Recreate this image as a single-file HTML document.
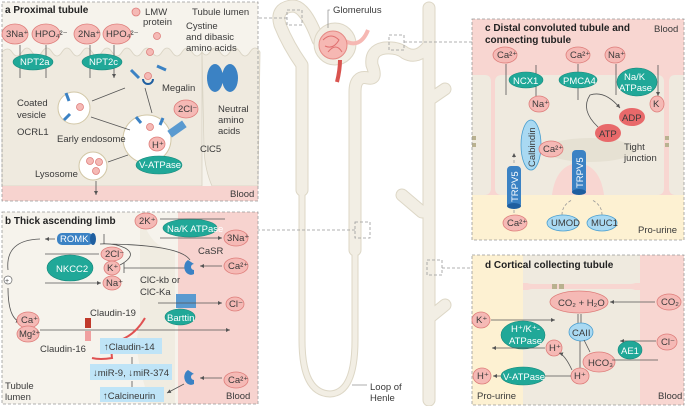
<!DOCTYPE html>
<html><head><meta charset="utf-8"><style>
html,body{margin:0;padding:0;background:#fff}
svg{display:block;font-family:"Liberation Sans",sans-serif}
.t{font-size:9.5px;fill:#3a3a3a}
.h{font-size:10px;font-weight:bold;fill:#222}
.io{fill:#f5b9b5;stroke:#de7d7a;stroke-width:0.8}
.tl{fill:#20a898;stroke:#16887b;stroke-width:0.6}
.tw{font-size:9.5px;fill:#fff}
.lb{fill:#a9d9f2;stroke:#4a9fd0;stroke-width:0.8}
.ar{stroke:#555;stroke-width:0.8;fill:none}
.ds{stroke:#999;stroke-width:0.8;fill:none;stroke-dasharray:3,2}
.tb{fill:none;stroke-linecap:round;stroke-linejoin:round}
</style></head><body>
<svg width="685" height="406" viewBox="0 0 685 406" xmlns="http://www.w3.org/2000/svg">
<defs><marker id="m" markerWidth="6" markerHeight="6" refX="5" refY="3" orient="auto"><path d="M0,0.5 L5,3 L0,5.5z" fill="#555"/></marker></defs>

<!-- PANEL A -->
<rect x="2" y="2" width="256" height="199" fill="#f6f3ec"/>
<path d="M2,52 q6,-6 10,0 q5,8 10,0 q5,-8 10,0 q5,8 10,0 q5,-8 10,0 q5,8 10,0 q5,-8 10,0 q5,8 10,0 q5,-8 10,0 q5,8 10,0 q5,-8 10,0 q5,8 10,0 q5,-8 10,0 q5,8 10,0 q5,-8 10,0 q5,8 10,0 q5,-8 10,0 q5,8 10,0 q5,-8 10,0 q5,8 10,0 L202,186 L2,186z" fill="#efeadf" stroke="#d8d2c2" stroke-width="0.8"/>
<path d="M202,52 q4,6 8,0 q5,-8 10,0 q5,8 10,0 q5,-8 10,0 q5,8 10,0 q5,-8 10,0 L258,186 L212,186 Q205,170 204,150z" fill="#efeadf" stroke="#d8d2c2" stroke-width="0.8"/>
<rect x="2" y="186" width="256" height="15" fill="#f7d3cf"/>
<rect x="2" y="2" width="256" height="199" class="ds"/>
<text x="5" y="13" class="h">a  Proximal tubule</text>
<text x="192" y="15" class="t">Tubule lumen</text>
<text x="230" y="197" class="t">Blood</text>
<ellipse cx="15" cy="34" rx="13" ry="10" class="io"/><text x="6" y="37" class="t">3Na⁺</text>
<ellipse cx="46" cy="34" rx="14" ry="10" class="io"/><text x="35" y="37" class="t">HPO₄²⁻</text>
<ellipse cx="87" cy="34" rx="13" ry="10" class="io"/><text x="78" y="37" class="t">2Na⁺</text>
<ellipse cx="117" cy="34" rx="14" ry="10" class="io"/><text x="106" y="37" class="t">HPO₄²⁻</text>
<path d="M20,45 V78 M46,45 V78 M90,45 V78 M114,45 V78" class="ar" marker-end="url(#m)"/>
<ellipse cx="33" cy="62" rx="20" ry="8" class="tl"/><text x="20" y="65" class="tw">NPT2a</text>
<ellipse cx="102" cy="62" rx="20" ry="8" class="tl"/><text x="89" y="65" class="tw">NPT2c</text>
<circle cx="136" cy="12" r="4" class="io"/><text x="145" y="15" class="t">LMW</text><text x="143" y="25" class="t">protein</text>
<circle cx="157" cy="36" r="3.5" class="io"/><circle cx="150" cy="52" r="3.5" class="io"/>
<text x="186" y="29" class="t">Cystine</text><text x="186" y="40" class="t">and dibasic</text><text x="186" y="51" class="t">amino acids</text>
<ellipse cx="215" cy="78" rx="8" ry="14" fill="#3b82c4"/><ellipse cx="230" cy="78" rx="8" ry="14" fill="#3b82c4"/>
<text x="218" y="112" class="t">Neutral</text><text x="218" y="123" class="t">amino</text><text x="218" y="134" class="t">acids</text>
<path d="M131,70 l8,8 M157,66 l9,4" stroke="#3b82c4" stroke-width="3"/>
<circle cx="148" cy="76" r="3.5" class="io"/><path d="M143,79 a5,5 0 0 0 10,0" stroke="#1f5fa0" stroke-width="2" fill="none"/>
<text x="162" y="91" class="t">Megalin</text>
<circle cx="74" cy="108" r="16" fill="#fff" stroke="#d2c7a6"/>
<path d="M66,93 l3,8 M64,120 l6,-6" stroke="#3b82c4" stroke-width="3"/>
<circle cx="80" cy="107" r="3.5" class="io"/>
<text x="17" y="106" class="t">Coated</text><text x="17" y="118" class="t">vesicle</text><text x="17" y="135" class="t">OCRL1</text>
<circle cx="147" cy="139" r="24" fill="#fff" stroke="#d2c7a6"/>
<path d="M136,117 l5,6 M163,118 l-3,7" stroke="#3b82c4" stroke-width="3"/>
<circle cx="150" cy="127" r="3.5" class="io"/>
<text x="57" y="142" class="t">Early endosome</text>
<ellipse cx="186" cy="109" rx="12" ry="9" class="io"/><text x="178" y="112" class="t">2Cl⁻</text>
<rect x="168" y="125" width="18" height="8" fill="#5a9ad0" transform="rotate(-35 177 129)"/>
<ellipse cx="157" cy="144" rx="8" ry="7" class="io"/><text x="152" y="148" class="t">H⁺</text>
<text x="200" y="152" class="t">ClC5</text>
<ellipse cx="159" cy="165" rx="23" ry="9" class="tl"/><text x="139" y="168" class="tw">V-ATPase</text>
<circle cx="93" cy="166" r="14" fill="#fff" stroke="#d2c7a6"/>
<circle cx="90" cy="161" r="3.5" class="io"/><circle cx="99" cy="162" r="3.5" class="io"/><circle cx="96" cy="171" r="3.5" class="io"/>
<text x="35" y="177" class="t">Lysosome</text>
<path d="M125,88 L92,101 M145,88 L152,113 M91,117 L130,130 M128,155 L108,162 M96,181 V195" class="ar" marker-end="url(#m)"/>

<!-- PANEL B -->
<rect x="2" y="212" width="256" height="192" fill="#f6f3ec"/>
<path d="M178,212 H258 V404 H178z" fill="#f7d3cf"/>
<path d="M140,212 Q150,250 175,250 L175,404 L150,404 Q130,340 140,330" fill="#efeadf" opacity="0.8"/>
<rect x="2" y="212" width="256" height="192" class="ds"/>
<text x="5" y="224" class="h">b  Thick ascending limb</text>
<ellipse cx="146" cy="221" rx="11" ry="8" class="io"/><text x="139" y="224" class="t">2K⁺</text>
<ellipse cx="190" cy="228" rx="27" ry="9" class="tl"/><text x="167" y="232" class="tw">Na/K ATPase</text>
<ellipse cx="236" cy="238" rx="12" ry="8" class="io"/><text x="227" y="241" class="t">3Na⁺</text>
<path d="M225,219 H160 M160,238 H222" class="ar" marker-end="url(#m)"/>
<rect x="57" y="233" width="36" height="12" rx="5" fill="#3b82c4"/><ellipse cx="93" cy="239" rx="3" ry="6" fill="#1f5fa0"/><text x="60" y="242" class="tw">ROMK</text>
<path d="M55,239 H45" class="ar" marker-end="url(#m)"/>
<path d="M40,239 Q5,240 8,270 M8,288 Q8,318 20,322" class="ar" marker-end="url(#m)"/>
<circle cx="8" cy="280" r="4" fill="#fff" stroke="#666" stroke-width="0.7"/><text x="5" y="283" font-size="7" fill="#444">+</text>
<ellipse cx="112" cy="254" rx="11" ry="7" class="io"/><text x="105" y="257" class="t">2Cl⁻</text>
<ellipse cx="112" cy="268" rx="8" ry="7" class="io"/><text x="107" y="271" class="t">K⁺</text>
<ellipse cx="112" cy="283" rx="9" ry="7" class="io"/><text x="106" y="286" class="t">Na⁺</text>
<path d="M45,254 H99 M45,283 H101" class="ar" marker-end="url(#m)"/>
<ellipse cx="70" cy="268" rx="23" ry="13" class="tl"/><text x="56" y="272" class="tw">NKCC2</text>
<path d="M120,265 Q138,255 125,248 Q115,243 100,244 M190,260 Q180,245 108,244 M104,244 V234 M185,268 H124 M124,263 V273" class="ar"/>
<path d="M188,260 a6,7 0 1 0 6,14 l0,-4 a3,3 0 0 1 0,-6z" fill="#3b82c4"/>
<text x="198" y="254" class="t">CaSR</text>
<ellipse cx="236" cy="266" rx="12" ry="8" class="io"/><text x="228" y="269" class="t">Ca²⁺</text>
<path d="M222,266 H200" class="ar" marker-end="url(#m)"/>
<text x="140" y="283" class="t">ClC-kb or</text><text x="140" y="295" class="t">ClC-Ka</text>
<path d="M176,294 h20 v14 h-20z" fill="#5a9ad0"/>
<ellipse cx="180" cy="317" rx="15" ry="8" class="tl"/><text x="167" y="321" class="tw">Barttin</text>
<path d="M158,303 H222" class="ar" marker-end="url(#m)"/>
<ellipse cx="235" cy="304" rx="9" ry="7" class="io"/><text x="229" y="307" class="t">Cl⁻</text>
<ellipse cx="28" cy="320" rx="11" ry="8" class="io"/><text x="21" y="323" class="t">Ca⁺</text>
<ellipse cx="28" cy="334" rx="11" ry="8" class="io"/><text x="19" y="337" class="t">Mg²⁺</text>
<path d="M40,330 H230" class="ar" marker-end="url(#m)"/>
<rect x="85" y="318" width="6" height="10" fill="#c0392b"/><rect x="85" y="331" width="6" height="10" fill="#f0a0a0"/>
<text x="90" y="316" class="t">Claudin-19</text><text x="40" y="352" class="t">Claudin-16</text>
<path d="M145,318 Q135,335 120,340 Q110,345 112,358 Q100,360 92,358" stroke="#e05252" stroke-width="2" fill="none"/>
<rect x="100" y="338" width="62" height="16" fill="#bfe4f7"/><text x="104" y="350" class="t" font-size="10">↑Claudin-14</text>
<rect x="90" y="364" width="82" height="16" fill="#bfe4f7"/><text x="93" y="376" class="t" font-size="10">↓miR-9, ↓miR-374</text>
<rect x="100" y="387" width="64" height="15" fill="#bfe4f7"/><text x="103" y="399" class="t" font-size="10">↑Calcineurin</text>
<path d="M132,364 V357 M132,387 V381 M184,384 L167,393" class="ar" marker-end="url(#m)"/>
<path d="M188,370 a6,7 0 1 0 6,14 l0,-4 a3,3 0 0 1 0,-6z" fill="#3b82c4"/>
<ellipse cx="236" cy="380" rx="12" ry="8" class="io"/><text x="228" y="383" class="t">Ca²⁺</text>
<path d="M222,378 H200" class="ar" marker-end="url(#m)"/>
<text x="5" y="389" class="t">Tubule</text><text x="5" y="400" class="t">lumen</text>
<text x="226" y="399" class="t">Blood</text>

<!-- NEPHRON -->
<path class="tb" d="M318,40 Q305,5 292,6 Q275,8 280,25 Q288,45 302,65 L302,190" stroke="#ddd7c6" stroke-width="13"/>
<path class="tb" d="M302,190 L302,340 Q302,393 330,394 Q355,393 355,340 L355,250" stroke="#ddd7c6" stroke-width="7"/>
<path class="tb" d="M355,250 L355,92 Q355,75 368,78 Q378,80 372,65 Q370,50 385,48 Q398,47 405,53 Q418,60 429,45" stroke="#ddd7c6" stroke-width="13"/>
<path class="tb" d="M429,8 L429,400 M429,100 L445,89 M422,212 L402,195 M429,318 L445,305" stroke="#ddd7c6" stroke-width="13"/>
<path class="tb" d="M318,40 Q305,5 292,6 Q275,8 280,25 Q288,45 302,65 L302,190" stroke="#f2eee4" stroke-width="11"/>
<path class="tb" d="M302,190 L302,340 Q302,393 330,394 Q355,393 355,340 L355,250" stroke="#f2eee4" stroke-width="5"/>
<path class="tb" d="M355,250 L355,92 Q355,75 368,78 Q378,80 372,65 Q370,50 385,48 Q398,47 405,53 Q418,60 429,45" stroke="#f2eee4" stroke-width="11"/>
<path class="tb" d="M429,8 L429,400 M429,100 L445,89 M422,212 L402,195 M429,318 L445,305" stroke="#f2eee4" stroke-width="11"/>
<circle cx="335" cy="44" r="21" fill="#f2eee4" stroke="#ddd7c6"/>
<path d="M340,60 Q340,70 337,82" stroke="#d9534f" stroke-width="4" fill="none"/>
<path d="M343,40 Q360,50 368,30" stroke="#f6b8b3" stroke-width="4" fill="none"/>
<circle cx="333" cy="45" r="14" fill="#f6b8b3" stroke="#e58a85"/>
<path d="M323,40 q8,-8 16,0 q-6,10 -14,6 M328,52 q8,-10 14,0" stroke="#e07070" stroke-width="1" fill="none"/>
<text x="333" y="13" class="t">Glomerulus</text><path d="M330,10 H328 V28" stroke="#777" stroke-width="0.6" fill="none"/>
<text x="370" y="390" class="t">Loop of</text><text x="370" y="401" class="t">Henle</text><path d="M352,385 H367" stroke="#777" stroke-width="0.6"/>
<rect x="287" y="10" width="15" height="15" class="ds"/><path d="M287,18 H258" class="ds"/>
<rect x="355" y="222" width="15" height="16" class="ds"/><path d="M355,230 H258" class="ds"/>
<rect x="389" y="35" width="15" height="15" class="ds"/><path d="M404,42 H472" class="ds"/>
<rect x="427" y="260" width="15" height="15" class="ds"/><path d="M442,268 H472" class="ds"/>

<!-- PANEL C -->
<rect x="472" y="19" width="212" height="221" fill="#f8d6d1"/>
<rect x="472" y="195" width="212" height="45" fill="#fdf1d2"/>
<path d="M472,75 H485 Q491,75 491,82 V188 Q491,195 484,195 H472z" fill="#efeadf"/>
<path d="M684,75 H675 Q669,75 669,82 V188 Q669,195 676,195 H684z" fill="#efeadf"/>
<path d="M502,75 H657 Q664,75 664,82 V188 Q664,195 657,195 H604 Q600,165 578,163 Q556,165 552,195 H502 Q495,195 495,188 V82 Q495,75 502,75z" fill="#efeadf"/>
<ellipse cx="590" cy="150" rx="45" ry="12" fill="#e6e1d3"/>
<rect x="665" y="136" width="4" height="4" fill="#b9b18f"/><rect x="665" y="143" width="4" height="4" fill="#b9b18f"/>
<rect x="472" y="136" width="4" height="4" fill="#b9b18f"/><rect x="472" y="143" width="4" height="4" fill="#b9b18f"/>
<rect x="472" y="19" width="212" height="221" class="ds"/>
<text x="485" y="31" class="h">c  Distal convoluted tubule and</text>
<text x="485" y="43" class="h">connecting tubule</text>
<text x="654" y="32" class="t">Blood</text>
<ellipse cx="505" cy="55" rx="12" ry="8" class="io"/><text x="497" y="58" class="t">Ca²⁺</text>
<ellipse cx="578" cy="55" rx="12" ry="8" class="io"/><text x="570" y="58" class="t">Ca²⁺</text>
<ellipse cx="615" cy="55" rx="10" ry="8" class="io"/><text x="608" y="58" class="t">Na⁺</text>
<path d="M506,95 V64 M578,100 V64 M616,95 V64 M536,65 V96 M658,65 V96" class="ar" marker-end="url(#m)"/>
<ellipse cx="526" cy="80" rx="17" ry="8" class="tl"/><text x="513" y="84" class="tw">NCX1</text>
<ellipse cx="578" cy="80" rx="19" ry="8" class="tl"/><text x="563" y="84" class="tw">PMCA4</text>
<ellipse cx="637" cy="82" rx="20" ry="14" class="tl"/><text x="624" y="80" class="tw">Na/K</text><text x="619" y="91" class="tw">ATPase</text>
<ellipse cx="539" cy="104" rx="10" ry="8" class="io"/><text x="532" y="107" class="t">Na⁺</text>
<ellipse cx="657" cy="104" rx="7" ry="8" class="io"/><text x="653" y="107" class="t">K</text>
<ellipse cx="632" cy="117" rx="13" ry="9" fill="#e8696a"/><text x="622" y="121" class="t">ADP</text>
<ellipse cx="608" cy="133" rx="13" ry="9" fill="#e8696a"/><text x="599" y="137" class="t">ATP</text>
<path d="M598,127 Q580,110 590,95 Q605,90 620,108" class="ar" marker-end="url(#m)"/>
<ellipse cx="531" cy="145" rx="10" ry="25" class="lb"/><text x="535" y="167" class="t" transform="rotate(-90 535 167)">Calbindin</text>
<ellipse cx="551" cy="149" rx="12" ry="8" class="io"/><text x="543" y="152" class="t">Ca²⁺</text>
<text x="624" y="150" class="t">Tight</text><text x="624" y="161" class="t">junction</text>
<rect x="507" y="166" width="14" height="42" rx="4" fill="#3b82c4"/><ellipse cx="514" cy="206" rx="7" ry="3" fill="#1f5fa0"/>
<text x="518" y="202" class="tw" font-size="8" transform="rotate(-90 518 202)">TRPV5</text>
<rect x="572" y="150" width="14" height="44" rx="4" fill="#3b82c4"/><ellipse cx="579" cy="192" rx="7" ry="3" fill="#1f5fa0"/>
<text x="583" y="188" class="tw" font-size="8" transform="rotate(-90 583 188)">TRPV5</text>
<path d="M514,163 V153" class="ds" stroke="#555" marker-end="url(#m)"/>
<path d="M514,210 V215 M562,215 Q562,205 572,200 M602,215 Q602,205 592,200" class="ds" stroke="#555"/>
<ellipse cx="515" cy="223" rx="12" ry="8" class="io"/><text x="507" y="226" class="t">Ca²⁺</text>
<ellipse cx="563" cy="223" rx="16" ry="8" class="lb"/><text x="551" y="226" class="t">UMOD</text>
<ellipse cx="602" cy="223" rx="15" ry="8" class="lb"/><text x="591" y="226" class="t">MUC1</text>
<text x="638" y="233" class="t">Pro-urine</text>

<!-- PANEL D -->
<rect x="472" y="255" width="212" height="150" fill="#efeadf"/>
<rect x="472" y="255" width="51" height="150" fill="#fdf1d2"/>
<rect x="640" y="255" width="44" height="150" fill="#f8d6d1"/>
<path d="M523,283 H640 V290 H523z" fill="#f8d6d1"/>
<path d="M523,255 H640 V275 Q640,284 630,284 H533 Q523,284 523,275z" fill="#efeadf"/>
<path d="M523,300 Q523,289 533,289 H630 Q640,289 640,300 V405 H523z" fill="#efeadf"/>
<rect x="552" y="284" width="5" height="5" fill="#b9b18f"/><rect x="559" y="284" width="5" height="5" fill="#b9b18f"/>
<rect x="472" y="255" width="212" height="150" class="ds"/>
<text x="485" y="268" class="h">d  Cortical collecting tubule</text>
<ellipse cx="579" cy="302" rx="29" ry="11" class="io"/><text x="558" y="306" class="t">CO₂ + H₂O</text>
<ellipse cx="669" cy="302" rx="12" ry="8" class="io"/><text x="661" y="305" class="t">CO₂</text>
<path d="M655,302 H610" class="ar" marker-end="url(#m)"/>
<path d="M578,314 V323 M581,314 V323" stroke="#555" stroke-width="0.8"/>
<ellipse cx="581" cy="332" rx="12" ry="9" class="lb"/><text x="572" y="336" class="t">CAII</text>
<ellipse cx="481" cy="320" rx="9" ry="8" class="io"/><text x="476" y="323" class="t">K⁺</text>
<path d="M491,320 H555" class="ar" marker-end="url(#m)"/>
<ellipse cx="523" cy="335" rx="22" ry="14" class="tl"/><text x="511" y="332" class="tw">H⁺/K⁺-</text><text x="509" y="344" class="tw">ATPase</text>
<ellipse cx="554" cy="348" rx="8" ry="8" class="io"/><text x="549" y="351" class="t">H⁺</text>
<path d="M545,348 H492" class="ar" marker-end="url(#m)"/>
<ellipse cx="667" cy="342" rx="10" ry="8" class="io"/><text x="661" y="345" class="t">Cl⁻</text>
<path d="M656,341 H620" class="ar" marker-end="url(#m)"/>
<ellipse cx="630" cy="350" rx="12" ry="9" class="tl"/><text x="621" y="354" class="tw">AE1</text>
<ellipse cx="599" cy="362" rx="16" ry="10" class="io"/><text x="588" y="366" class="t">HCO₃</text>
<path d="M612,360 H658 M580,341 V368 M584,340 L590,352 M572,370 Q565,355 559,353" class="ar" marker-end="url(#m)"/>
<ellipse cx="580" cy="376" rx="9" ry="8" class="io"/><text x="574" y="379" class="t">H⁺</text>
<path d="M571,376 H535" class="ar"/>
<ellipse cx="523" cy="376" rx="22" ry="9" class="tl"/><text x="503" y="380" class="tw">V-ATPase</text>
<path d="M501,376 H493" class="ar" marker-end="url(#m)"/>
<ellipse cx="482" cy="376" rx="9" ry="8" class="io"/><text x="477" y="379" class="t">H⁺</text>
<text x="477" y="399" class="t">Pro-urine</text>
<text x="658" y="399" class="t">Blood</text>
</svg>
</body></html>
